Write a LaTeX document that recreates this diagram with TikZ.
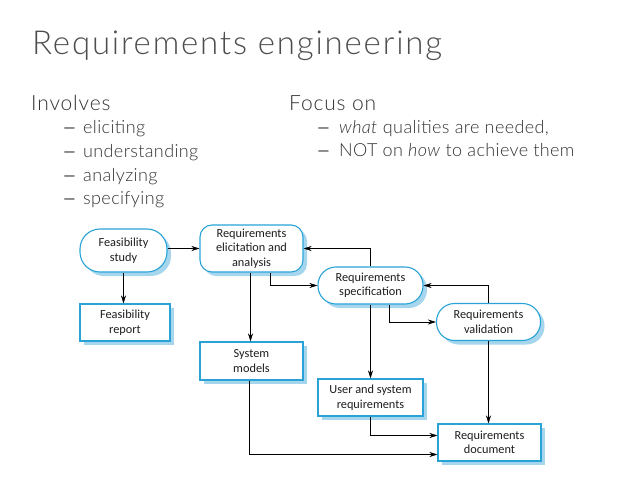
\documentclass[tikz,border=0pt]{standalone}
\usepackage{fontspec}
\setmainfont{Lato Light}
\newfontfamily\diagfont{Carlito}
\newfontfamily\dashfont{Lato}
\usetikzlibrary{arrows.meta,shadows,calc}
\definecolor{boxblue}{RGB}{41,163,214}
\definecolor{shadowblue}{RGB}{165,214,238}
\definecolor{titlegray}{RGB}{77,77,77}
\definecolor{textgray}{RGB}{51,51,51}
\definecolor{diagtext}{RGB}{30,30,30}
\newcommand{\itemdash}{\scalebox{1.5}[1]{\dashfont –}}
\begin{document}
\begin{tikzpicture}[x=1pt,y=-1pt,
  titletext/.style={anchor=base west,inner sep=0,text=titlegray,font=\fontsize{33}{38}\selectfont\addfontfeature{LetterSpace=5.5}},
  headtext/.style={anchor=base west,inner sep=0,text=textgray,font=\fontsize{21}{24}\selectfont\addfontfeature{LetterSpace=4}},
  itemtext/.style={anchor=base west,inner sep=0,text=textgray,font=\fontsize{18}{20}\selectfont\addfontfeature{LetterSpace=2}},
  dashtext/.style={anchor=base west,inner sep=0,text=textgray,font=\fontsize{17}{20}\selectfont},
  boxbase/.style={draw=boxblue,line width=1.1pt,fill=white,inner sep=0,align=center,
    text=diagtext,font=\diagfont\fontsize{12.3}{14.5}\selectfont,
    drop shadow={shadow xshift=4pt,shadow yshift=-4pt,fill=shadowblue,opacity=1}},
  docbox/.style={boxbase,rectangle},
  procbox/.style={boxbase,rectangle,rounded corners=#1},
  arr/.style={draw=black,line width=0.8pt,-{Stealth[length=8pt,width=5pt]}}
]
\useasboundingbox[fill=white] (0,0) rectangle (638,479);
% text
\node[titletext] (title) at (32,54) {Requirements engineering};
\node[headtext] (inv) at (31,110) {Involves};
\node[dashtext] (d1) at (62,133) {\itemdash};
\node[itemtext] (i1) at (83,133) {eliciting};
\node[dashtext] (d2) at (62,157) {\itemdash};
\node[itemtext] (i2) at (83,157) {understanding};
\node[dashtext] (d3) at (62,181) {\itemdash};
\node[itemtext] (i3) at (83,181) {analyzing};
\node[dashtext] (d4) at (62,204) {\itemdash};
\node[itemtext] (i4) at (83,204) {specifying};
\node[headtext] (foc) at (289,110) {Focus on};
\node[dashtext] (d5) at (316,133) {\itemdash};
\node[itemtext] (f1) at (339,133) {\textit{what} qualities are needed,};
\node[dashtext] (d6) at (316,156) {\itemdash};
\node[itemtext] (f2) at (339,156) {NOT on \textit{how} to achieve them};
% diagram
\node[procbox=20pt,minimum width=87pt,minimum height=43pt] (fs) at (123.5,250.5) {Feasibility\\study};
\node[procbox=12pt,minimum width=103pt,minimum height=47pt] (rea) at (251.5,248.5) {Requirements\\elicitation and\\analysis};
\node[procbox=18pt,minimum width=105pt,minimum height=37pt] (rs) at (370.5,285.5) {Requirements\\specification};
\node[procbox=18pt,minimum width=104pt,minimum height=37pt] (rv) at (488.5,322) {Requirements\\validation};
\node[docbox,minimum width=90pt,minimum height=37pt] (fr) at (125,322.5) {Feasibility\\report};
\node[docbox,minimum width=103pt,minimum height=38pt] (sm) at (251.5,361) {System\\models};
\node[docbox,minimum width=105pt,minimum height=37pt] (usr) at (370.5,397.5) {User and system\\requirements};
\node[docbox,minimum width=103pt,minimum height=37pt] (rd) at (489.5,442.5) {Requirements\\document};
% connectors
\draw[arr] (fs.east |- rea.west) -- (rea.west);
\draw[arr] (fs.south) -- (fs.south |- fr.north);
\draw[arr] ([xshift=-1pt]rea.south) -- ([xshift=-1pt]sm.north);
\draw[arr] ([xshift=19pt]rea.south) |- (rs.west);
\draw[arr] (rs.north) |- (rea.east);
\draw[arr] (rs.south) -- (usr.north);
\draw[arr] ([xshift=19pt]rs.south) |- (rv.west);
\draw[arr] (rv.north) |- (rs.east);
\draw[arr] (rv.south) -- (rv.south |- rd.north);
\draw[arr] (usr.south) |- ([yshift=7pt]rd.west);
\draw[arr] ([xshift=-2pt]sm.south) |- ([yshift=-12pt]rd.west);
\end{tikzpicture}
\end{document}
